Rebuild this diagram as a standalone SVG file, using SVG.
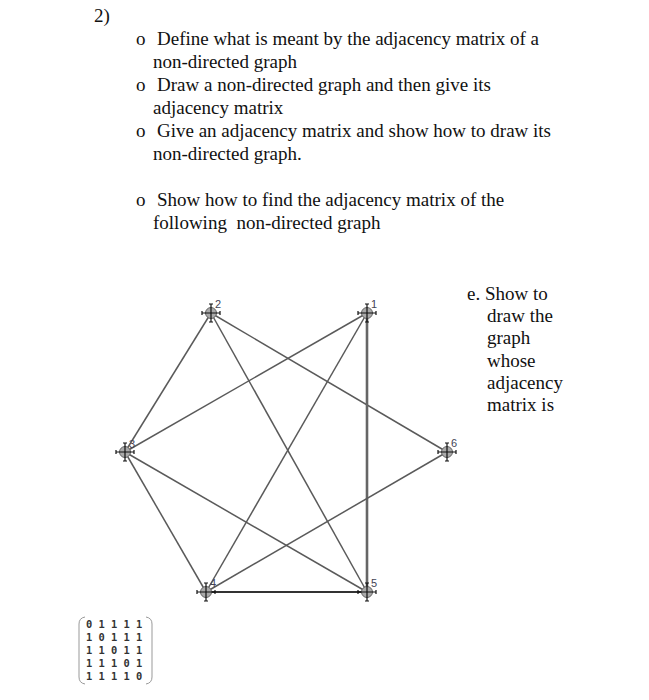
<svg xmlns="http://www.w3.org/2000/svg" width="649" height="700" viewBox="0 0 649 700">
<style>
.t{font-family:"Liberation Serif","Times New Roman",serif;font-size:19px;fill:#111}
.edge{stroke:#5a5a5a;stroke-width:1.5;fill:none}
.lbl{font-family:"Liberation Sans",Arial,sans-serif;font-size:11px;fill:#445}
.m{font-family:"DejaVu Sans Mono",monospace;font-size:10.4px;fill:#333;font-weight:bold}
</style>
<defs>
<g id="nd">
<circle r="5.5" fill="#aaa" stroke="#666" stroke-width="1"/>
<path d="M-9 0H9M0 -9V9M-9 -2V2M9 -2V2M-2 -9H2M-2 9H2" stroke="#111" stroke-width="1.2" fill="none"/>
</g>
</defs>
<rect width="649" height="700" fill="#fff"/>
<g id="text">
<text class="t" x="94" y="22">2)</text>
<text class="t" x="136" y="45">o</text>
<text class="t" x="157" y="45" textLength="382">Define what is meant by the adjacency matrix of a</text>
<text class="t" x="153" y="68">non-directed graph</text>
<text class="t" x="136" y="91">o</text>
<text class="t" x="157" y="91">Draw a non-directed graph and then give its</text>
<text class="t" x="153" y="114">adjacency matrix</text>
<text class="t" x="136" y="137">o</text>
<text class="t" x="157" y="137" textLength="394">Give an adjacency matrix and show how to draw its</text>
<text class="t" x="153" y="160">non-directed graph.</text>
<text class="t" x="136" y="206">o</text>
<text class="t" x="157" y="206">Show how to find the adjacency matrix of the</text>
<text class="t" x="153" y="229" xml:space="preserve">following  non-directed graph</text>
<text class="t" x="467" y="300">e. Show to</text>
<text class="t" x="487" y="322">draw the</text>
<text class="t" x="487" y="344">graph</text>
<text class="t" x="487" y="367">whose</text>
<text class="t" x="487" y="389">adjacency</text>
<text class="t" x="487" y="411">matrix is</text>
</g>
<g id="connectors">
<line class="edge" x1="211" y1="313" x2="125" y2="452"/>
<line class="edge" x1="211" y1="313" x2="367" y2="592"/>
<line class="edge" x1="211" y1="313" x2="447" y2="452"/>
<line class="edge" x1="367" y1="313" x2="125" y2="452"/>
<line class="edge" x1="367" y1="313" x2="206" y2="592"/>
<line class="edge" x1="367" y1="313" x2="367" y2="592" style="stroke-width:2.6;stroke:#666"/>
<line class="edge" x1="125" y1="452" x2="206" y2="592"/>
<line class="edge" x1="125" y1="452" x2="367" y2="592"/>
<line class="edge" x1="447" y1="452" x2="206" y2="592"/>
<line class="edge" x1="206" y1="592" x2="367" y2="592" style="stroke-width:2;stroke:#333"/>
</g>
<g id="node1"><use href="#nd" x="367" y="313"/><text class="lbl" x="371" y="308">1</text></g>
<g id="node2"><use href="#nd" x="211" y="313"/><text class="lbl" x="215" y="308">2</text></g>
<g id="node3"><use href="#nd" x="125" y="452"/><text class="lbl" x="129" y="448">3</text></g>
<g id="node4"><use href="#nd" x="206" y="592"/><text class="lbl" x="210" y="587">4</text></g>
<g id="node5"><use href="#nd" x="367" y="592"/><text class="lbl" x="371" y="587">5</text></g>
<g id="node6"><use href="#nd" x="447" y="452"/><text class="lbl" x="451" y="447">6</text></g>
<g id="matrix">
<path d="M85 617Q79 618 79 624V677Q79 683 85 684" stroke="#999" fill="none" stroke-width="1"/>
<path d="M146 617Q152 618 152 624V677Q152 683 146 684" stroke="#999" fill="none" stroke-width="1"/>
<text class="m" x="86" y="628">0 1 1 1 1</text>
<text class="m" x="86" y="641">1 0 1 1 1</text>
<text class="m" x="86" y="654">1 1 0 1 1</text>
<text class="m" x="86" y="667">1 1 1 0 1</text>
<text class="m" x="86" y="680">1 1 1 1 0</text>
</g>
</svg>
